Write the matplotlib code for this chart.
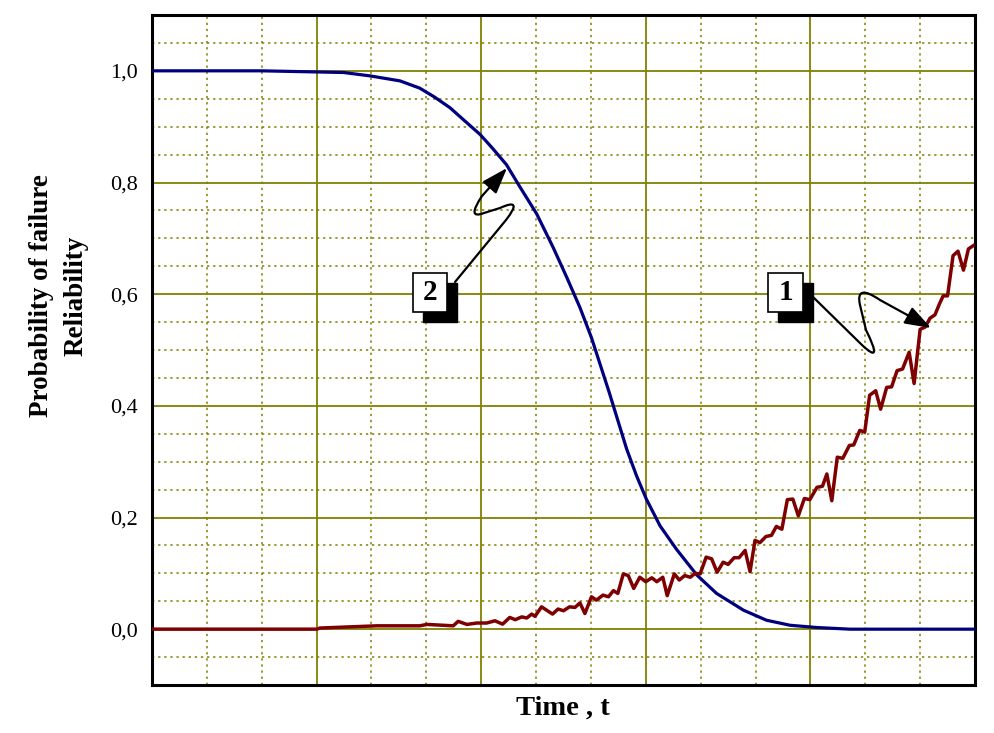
import matplotlib
matplotlib.use("Agg")
import matplotlib.pyplot as plt
from matplotlib.path import Path
from matplotlib.patches import FancyArrowPatch, Rectangle
from matplotlib.ticker import MultipleLocator, FuncFormatter

# ---- data ----
t_rel = [0, 1, 2, 3.0, 3.49, 3.97, 4.52, 4.88, 5.15, 5.43, 5.67, 5.98, 6.2, 6.46, 6.7,
         7.01, 7.31, 7.56, 7.80, 8.01, 8.33, 8.65, 8.83, 9.01, 9.26, 9.56, 9.93, 10.29,
         10.78, 11.2, 11.63, 12.11, 12.72, 13.5, 14.5, 15]
reliability = [1.0, 1.0, 1.0, 0.998, 0.997, 0.991, 0.982, 0.969, 0.953, 0.934, 0.913,
               0.886, 0.862, 0.832, 0.793, 0.744, 0.684, 0.630, 0.576, 0.522, 0.425,
               0.323, 0.275, 0.233, 0.185, 0.143, 0.097, 0.064, 0.034, 0.016, 0.007,
               0.003, 0.0, 0.0, 0.0, 0.0]

t_fail = [0, 3.0, 3.06, 4.10, 4.88, 5.01, 5.49, 5.58, 5.74, 5.92, 6.10, 6.25, 6.39, 6.52,
          6.62, 6.74, 6.83, 6.92, 6.98, 7.10, 7.30, 7.40, 7.50, 7.61, 7.71, 7.80, 7.89,
          8.01, 8.10, 8.22, 8.32, 8.41, 8.49, 8.59, 8.68, 8.78, 8.89, 9.00, 9.11, 9.20,
          9.31, 9.39, 9.52, 9.61, 9.71, 9.81, 9.90, 9.99, 10.10, 10.20, 10.30, 10.41,
          10.50, 10.61, 10.70, 10.81, 10.90, 10.99, 11.08, 11.19, 11.29, 11.38, 11.48,
          11.58, 11.68, 11.78, 11.89, 11.99, 12.12, 12.22, 12.30, 12.39, 12.49, 12.59,
          12.71, 12.79, 12.90, 12.99, 13.08, 13.19, 13.28, 13.39, 13.48, 13.58, 13.68,
          13.80, 13.89, 14.00, 14.09, 14.18, 14.27, 14.35, 14.42, 14.50, 14.60, 14.69,
          14.79, 14.88, 14.97]
failure = [0.0, 0.0, 0.002, 0.006, 0.006, 0.0085, 0.006, 0.014, 0.0085, 0.011, 0.011,
           0.015, 0.009, 0.021, 0.017, 0.022, 0.020, 0.027, 0.023, 0.040, 0.027, 0.036,
           0.033, 0.040, 0.039, 0.047, 0.028, 0.058, 0.052, 0.061, 0.058, 0.069, 0.064,
           0.099, 0.096, 0.073, 0.093, 0.085, 0.092, 0.085, 0.093, 0.060, 0.099, 0.088,
           0.096, 0.093, 0.100, 0.099, 0.129, 0.126, 0.102, 0.120, 0.116, 0.128, 0.128,
           0.141, 0.103, 0.159, 0.155, 0.166, 0.168, 0.184, 0.179, 0.232, 0.233, 0.203,
           0.234, 0.232, 0.254, 0.256, 0.278, 0.230, 0.308, 0.306, 0.329, 0.330, 0.356,
           0.353, 0.419, 0.427, 0.394, 0.433, 0.434, 0.463, 0.466, 0.496, 0.440, 0.537,
           0.541, 0.557, 0.563, 0.582, 0.597, 0.597, 0.669, 0.677, 0.643, 0.681, 0.687]

y_ticks = [0.0, 0.2, 0.4, 0.6, 0.8, 1.0]
ylabel_text = "Probability of failure\nReliability"
xlabel_text = "Time , t"

# ---- figure ----
W, H = 995, 733
fig = plt.figure(figsize=(W / 100, H / 100), dpi=100)
L, R_, T, B = 152, 975, 15, 685
ax = fig.add_axes([L / W, 1 - B / H, (R_ - L) / W, (B - T) / H])
ax.set_facecolor("white")

ax.set_xlim(0, 15)
ax.set_ylim(-0.1, 1.1)

olive = "#808000"
ax.xaxis.set_major_locator(MultipleLocator(3))
ax.xaxis.set_minor_locator(MultipleLocator(1))
ax.yaxis.set_major_locator(MultipleLocator(0.2))
ax.yaxis.set_minor_locator(MultipleLocator(0.05))
ax.set_yticks(y_ticks)
ax.grid(which="major", color=olive, linewidth=1.3, linestyle="-")
ax.grid(which="minor", color=olive, linewidth=1.1, linestyle=(0, (1.5, 2.5)))
ax.set_axisbelow(True)

ax.tick_params(axis="x", which="both", length=0, labelbottom=False)
ax.tick_params(axis="y", which="both", length=0, pad=10.5)
ax.yaxis.set_major_formatter(FuncFormatter(lambda v, p: f"{v:.1f}".replace(".", ",")))
for lab in ax.get_yticklabels():
    lab.set_fontfamily("Liberation Serif")
    lab.set_fontsize(16)

for sp in ax.spines.values():
    sp.set_linewidth(2.2)
    sp.set_color("black")

ax.plot(t_rel, reliability, color="#00007F", linewidth=2.3, solid_joinstyle="round", zorder=3)
ax.plot(t_fail, failure, color="#7F0000", linewidth=2.5, solid_joinstyle="round", zorder=3)

fig.text(59 / W, 1 - 296 / H, ylabel_text, rotation=90, ha="center", va="center",
         multialignment="center", fontfamily="Liberation Serif", fontweight="bold",
         fontsize=19.5, linespacing=1.5)
fig.text(563 / W, 1 - 708 / H, xlabel_text, ha="center", va="center",
         fontfamily="Liberation Serif", fontweight="bold", fontsize=20.5)


# ---- annotations (pixel-based helper) ----
def px2d(px, py):
    return ((px - L) / (R_ - L) * 15, 1.1 - (py - T) / (B - T) * 1.2)


def label_box(x0, y0, w, h, txt):
    (dx0, dy1) = px2d(x0, y0)
    (dx1, dy0) = px2d(x0 + w, y0 + h)
    (sx0, sy1) = px2d(x0 + 10, y0 + 10)
    (sx1, sy0) = px2d(x0 + w + 10, y0 + h + 10)
    ax.add_patch(Rectangle((sx0, sy0), sx1 - sx0, sy1 - sy0, facecolor="black",
                           edgecolor="black", zorder=5))
    ax.add_patch(Rectangle((dx0, dy0), dx1 - dx0, dy1 - dy0, facecolor="white",
                           edgecolor="black", linewidth=1.2, zorder=6))
    ax.text((dx0 + dx1) / 2, (dy0 + dy1) / 2, txt, ha="center", va="center",
            fontfamily="Liberation Serif", fontweight="bold", fontsize=21, zorder=7)


def wiggle_arrow(pts_px):
    verts = [px2d(*p) for p in pts_px]
    codes = [Path.MOVETO, Path.LINETO, Path.CURVE3, Path.CURVE3, Path.LINETO,
             Path.CURVE3, Path.CURVE3, Path.LINETO]
    path = Path(verts, codes)
    arr = FancyArrowPatch(path=path, arrowstyle="-|>,head_length=0.8,head_width=0.28",
                          mutation_scale=20, color="black", linewidth=1.6, zorder=6)
    ax.add_patch(arr)


label_box(413, 273, 34, 39, "2")
wiggle_arrow([(455, 282), (506, 220), (524, 197), (500, 208),
              (484, 213), (466, 220), (482, 196), (507, 168)])

label_box(768, 273, 35, 39, "1")
wiggle_arrow([(812, 296), (862, 345), (884, 366), (866, 330),
              (860, 305), (855, 283), (880, 300), (931, 328)])

fig.savefig("out.png", dpi=100)
